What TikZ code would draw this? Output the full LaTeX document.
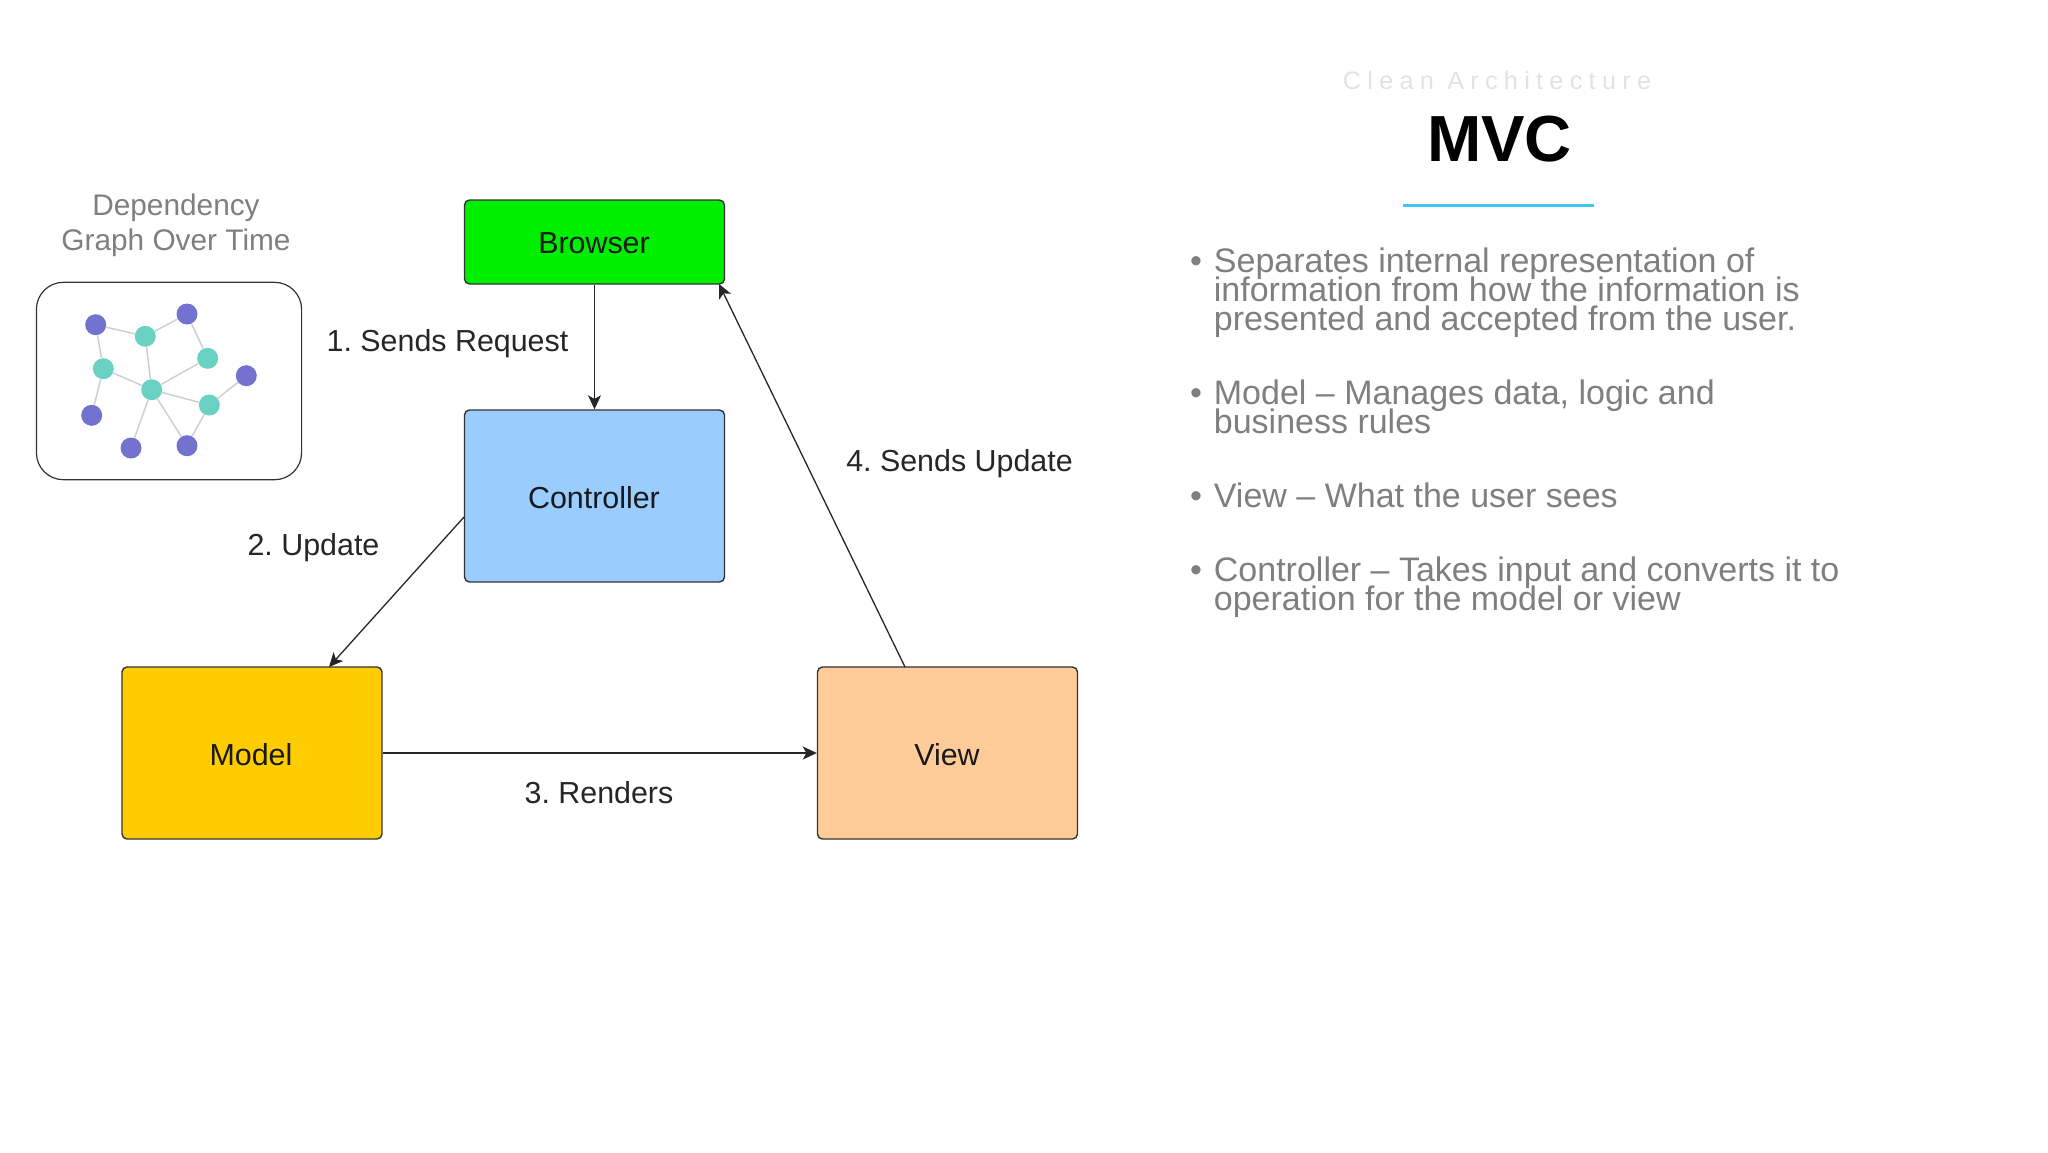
\documentclass[tikz,border=0pt]{standalone}
\usepackage{fontspec}
\setmainfont{Liberation Sans}
\usetikzlibrary{arrows.meta}
\definecolor{bodygray}{HTML}{7F7F7F}
\definecolor{faint}{HTML}{E2E2E2}
\definecolor{rulecyan}{HTML}{3CC8F5}
\definecolor{browsergreen}{HTML}{00EE00}
\definecolor{ctrlblue}{HTML}{99CCFF}
\definecolor{modelyellow}{HTML}{FFCC00}
\definecolor{vieworange}{HTML}{FFCC99}
\definecolor{gteal}{HTML}{69D2C2}
\definecolor{gpurple}{HTML}{7472CF}
\definecolor{gedge}{HTML}{CFCFCF}
\definecolor{boxline}{HTML}{333333}
\tikzset{
  x=0.5pt,y=-0.5pt,
  mvcbox/.style={draw=boxline,line width=0.7pt,rounded corners=2.5pt,minimum width=130pt,inner sep=0pt,text=black!90},
  boxtext/.style={anchor=base,inner sep=0pt,font=\fontsize{15.2}{18}\selectfont,text=black!90},
  flowarrow/.style={draw=black!85,line width=0.65pt,-{Stealth[length=7pt,width=6.5pt,inset=1.8pt]}},
  flowlabel/.style={anchor=base,inner sep=0pt,font=\fontsize{15.2}{18}\selectfont,text=black!85},
  bulletline/.style={anchor=base west,inner sep=0pt,align=left,text=bodygray,font=\fontsize{17}{14.5}\selectfont},
  bulletmark/.style={anchor=base,inner sep=0pt,text=bodygray,font=\fontsize{17}{14.5}\selectfont},
  tealdot/.style={circle,fill=gteal,minimum size=10.5pt,inner sep=0pt},
  purpledot/.style={circle,fill=gpurple,minimum size=10.5pt,inner sep=0pt},
  gline/.style={draw=gedge,line width=0.75pt},
  graphcaption/.style={anchor=base,inner sep=0pt,text=bodygray,font=\fontsize{14.9}{17}\selectfont},
}
\frenchspacing
\begin{document}
\begin{tikzpicture}
\frenchspacing
\useasboundingbox (0,0) rectangle (2048,1152);
% title block
\node[anchor=base,inner sep=0pt,text=faint,font=\fontsize{12.6}{14}\selectfont\addfontfeature{LetterSpace=25}] (kicker) at (1497,89) {Clean Architecture};
\node[anchor=base,inner sep=0pt,text=black,font=\fontsize{32.6}{36}\selectfont\bfseries] (title) at (1499.5,161.5) {MVC};
\coordinate (ruleL) at (1403,205);
\coordinate (ruleR) at (1594,205);
\draw[rulecyan,line width=1.5pt] (ruleL) -- (ruleR);
% bullets
\node[bulletmark] (b1) at (1196,272) {•};
\node[bulletline] (t1a) at (1213.5,272) {Separates internal representation of};
\node[bulletline] (t1b) at (1213.5,301) {information from how the information is};
\node[bulletline] (t1c) at (1213.5,330.5) {presented and accepted from the user.};
\node[bulletmark] (b2) at (1196,404) {•};
\node[bulletline] (t2a) at (1213.5,404) {Model – Manages data, logic and};
\node[bulletline] (t2b) at (1213.5,433) {business rules};
\node[bulletmark] (b3) at (1196,507) {•};
\node[bulletline] (t3a) at (1213.5,507) {View – What the user sees};
\node[bulletmark] (b4) at (1196,581) {•};
\node[bulletline] (t4a) at (1213.5,581) {Controller – Takes input and converts it to};
\node[bulletline] (t4b) at (1213.5,610) {operation for the model or view};
% dependency graph
\node[graphcaption] (dg1) at (176,215) {Dependency};
\node[graphcaption] (dg2) at (176,250) {Graph Over Time};
\node[draw=black!80,line width=0.6pt,rounded corners=13.5pt,minimum width=132.6pt,minimum height=98.7pt,inner sep=0pt] (frame) at (169,381) {};
\node[purpledot] (p1) at (95.7,324.7) {};
\node[purpledot] (p2) at (187,314) {};
\node[purpledot] (p3) at (246.3,375.7) {};
\node[purpledot] (p4) at (91.7,415.3) {};
\node[purpledot] (p5) at (131,448) {};
\node[purpledot] (p6) at (187,445.7) {};
\node[tealdot] (g1) at (145.3,336.3) {};
\node[tealdot] (g2) at (207.7,358.3) {};
\node[tealdot] (g3) at (103.3,368.7) {};
\node[tealdot] (g4) at (151.7,389.7) {};
\node[tealdot] (g5) at (209.3,405) {};
\draw[gline] (p1)--(g1) (p2)--(g1) (p1)--(g3) (g3)--(p4) (g3)--(g4) (g1)--(g4) (g2)--(p2) (g2)--(g4) (g4)--(g5) (g5)--(p3) (g5)--(p6) (g4)--(p5) (g4)--(p6);
% MVC boxes
\node[mvcbox,fill=browsergreen,minimum height=42pt] (browser) at (594.5,242) {};
\node[mvcbox,fill=ctrlblue,minimum height=86pt] (controller) at (594.5,496) {};
\node[mvcbox,fill=modelyellow,minimum height=86pt] (model) at (252,753) {};
\node[mvcbox,fill=vieworange,minimum height=86pt] (view) at (947.5,753) {};
\node[boxtext] (browserText) at (594,253) {Browser};
\node[boxtext] (controllerText) at (594,508) {Controller};
\node[boxtext] (modelText) at (251,765) {Model};
\node[boxtext] (viewText) at (947,765) {View};
% connectors
\coordinate (cOut) at (464,517);
\coordinate (mIn) at (329,667);
\coordinate (vOut) at (905,667);
\coordinate (bIn) at (719,284);
\draw[flowarrow] (browser.south) -- (controller.north);
\draw[flowarrow] (cOut) -- (mIn);
\draw[flowarrow] (model.east) -- (view.west);
\draw[flowarrow] (vOut) -- (bIn);
\node[flowlabel] (l1) at (447.5,351) {1. Sends Request};
\node[flowlabel] (l2) at (313.5,555) {2. Update};
\node[flowlabel] (l3) at (599,803) {3. Renders};
\node[flowlabel] (l4) at (959.5,471) {4. Sends Update};
\end{tikzpicture}
\end{document}
